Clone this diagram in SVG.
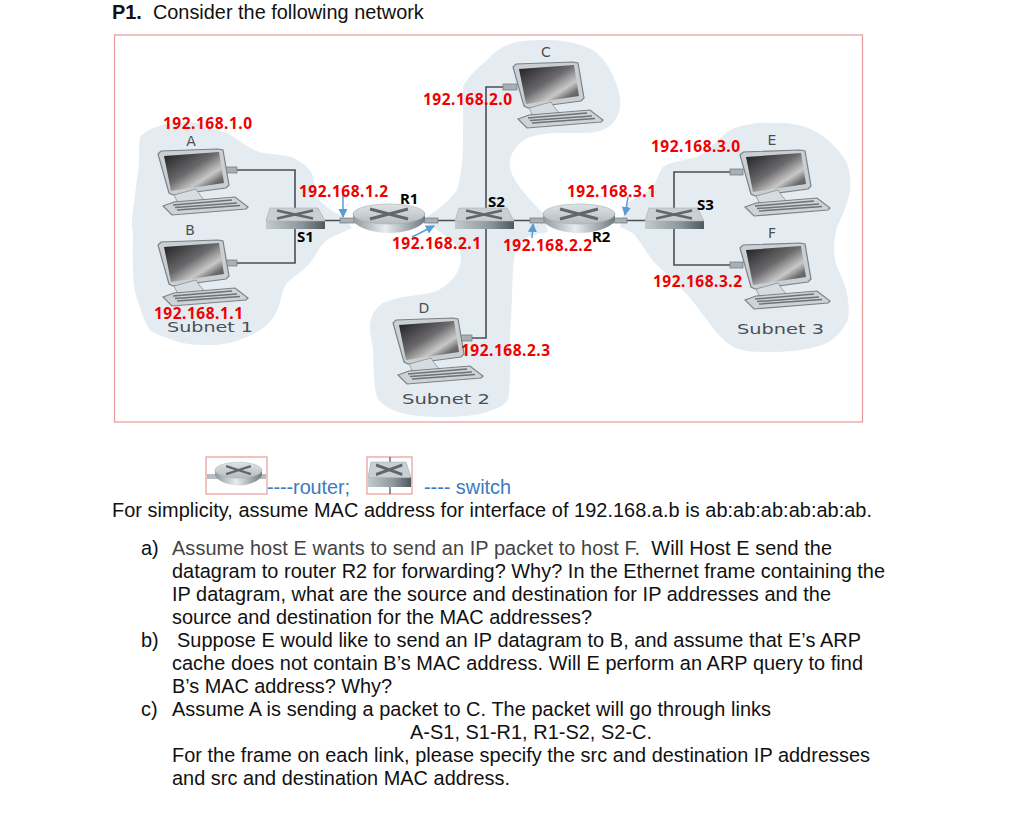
<svg xmlns="http://www.w3.org/2000/svg" width="1010" height="836" viewBox="0 0 1010 836">
<style>
.blob{fill:#e4ecf2}
.link{fill:none;stroke:#4a4f52;stroke-width:1.6}
.port{fill:#a9b0b4;stroke:#6d7478;stroke-width:.7}
.ip{font:bold 15.5px "Noto Sans","Liberation Sans",sans-serif;fill:#f00000}
.tag{font:bold 15px "Noto Sans","Liberation Sans",sans-serif;fill:#000}
.host{font:14px "DejaVu Sans","Liberation Sans",sans-serif;fill:#4a5054}
.body{font:19.9px "Liberation Sans",Arial,sans-serif;fill:#111;white-space:pre}
.grey{fill:#444}
.legend{font:19.9px "Liberation Sans",Arial,sans-serif;fill:#3a7cbd;white-space:pre}
.box{fill:#fff;stroke:#e79a9a;stroke-width:1.2}
.ar{fill:none;stroke:#5b9bd5;stroke-width:1.5;marker-end:url(#ah)}
</style>
<defs>
<marker id="ah" markerUnits="userSpaceOnUse" markerWidth="10" markerHeight="10" refX="8" refY="4.5" orient="auto"><path d="M0 0L9 4.5L0 9Z" fill="#5b9bd5"/></marker>
<linearGradient id="scr" x1="0" y1="0" x2="1" y2="1"><stop offset="0" stop-color="#1d1d1f"/><stop offset=".45" stop-color="#6a6a6c"/><stop offset=".68" stop-color="#c8c8c8"/><stop offset=".82" stop-color="#6c6c6e"/><stop offset="1" stop-color="#4a4a4c"/></linearGradient>
<linearGradient id="rb" x1="0" y1="0" x2="1" y2="0"><stop offset="0" stop-color="#8f989c"/><stop offset=".45" stop-color="#e8ecee"/><stop offset="1" stop-color="#6f797d"/></linearGradient>
<linearGradient id="rt" x1="0" y1="0" x2="0" y2="1"><stop offset="0" stop-color="#dfe3e5"/><stop offset="1" stop-color="#b4bcc0"/></linearGradient>
<linearGradient id="sf" x1="0" y1="0" x2="1" y2="0"><stop offset="0" stop-color="#c3cbce"/><stop offset=".6" stop-color="#8b979c"/><stop offset="1" stop-color="#4c585d"/></linearGradient>
<g id="pc">
<path d="M0 5L3 2L60 0L65 1L71 36L68 39L15 46L11 44Z" fill="#c9cfd2" stroke="#7b8286" stroke-width="1.200"/>
<path d="M6 7L61 3L66 34L13 42Z" fill="url(#scr)"/>
<path d="M16 46L19 52L12 56L48 53L42 46L38 40Z" fill="#d7dcdf" stroke="#899094" stroke-width=".8"/>
<path d="M5 57L16 53L77 48L90 58L88 60L14 66Z" fill="#cdd3d6" stroke="#7b8286" stroke-width="1.200"/>
<path d="M15 56L74 51M17 58.500L79 54M19 61L82 56.500" stroke="#6b7377" stroke-width="1.500" fill="none"/>
</g>
<g id="sw">
<path d="M4 0H52L59 13V21H0V13Z" fill="#c6ccd0"/>
<path d="M0 13H59V21H0Z" fill="url(#sf)"/>
<path d="M4 0H52L59 13H0Z" fill="#c9cfd2" stroke="#a7aeb2" stroke-width=".6"/>
<path d="M11 2.500L47 10.500M47 2.500L11 10.500" stroke="#5e676b" stroke-width="2.600" fill="none"/>
</g>
<g id="rt1">
<path d="M-36 -2V6C-30 14 -14 18 0 18C14 18 30 14 36 6V-2Z" fill="url(#rb)"/>
<ellipse cx="0" cy="-1" rx="36" ry="10" fill="url(#rt)" stroke="#a5adb1" stroke-width=".6"/>
<path d="M-19 -6L19 4M19 -6L-19 4" stroke="#5e676b" stroke-width="3" fill="none"/>
</g>
</defs>
<rect width="1010" height="836" fill="#fff"/>
<rect x="114.500" y="35" width="748" height="387" fill="#fff" stroke="#e79a9a" stroke-width="1.200"/>

<g id="subnets">
<path class="blob" d="M140 137C150 126 170 122 190 122C205 123 215 130 227 133C240 140 250 150 263 153C280 155 290 155 297 160C308 166 312 172 313 177C315 185 314 192 317 197C325 208 335 212 343 217L352 228C340 234 333 236 327 240C318 248 316 256 310 263C302 272 294 276 287 283C280 292 282 302 277 310C272 322 264 328 257 332C243 340 228 345 213 345C198 345 185 345 173 340C163 336 156 335 150 330C144 322 143 315 140 307C134 293 133 280 133 267C132 255 133 245 133 233C131 225 132 218 133 210C135 197 136 185 138 173C140 160 138 148 140 137Z"/>
<path class="blob" d="M547 40C565 40 585 44 597 53C610 65 617 82 620 97C621 107 619 116 613 123C605 132 592 133 580 133C562 133 545 132 530 137C520 141 512 150 510 160C509 168 512 176 517 183C525 195 535 205 543 213L548 232C535 234 526 236 520 243C515 251 514 258 513 267C512 290 512 312 510 333C510 360 511 382 508 400C503 406 498 408 493 410C478 416 460 417 443 417C425 417 407 416 393 410C385 406 380 403 377 397C373 382 374 365 373 350C372 340 369 332 370 323C372 313 377 307 383 303C398 296 415 296 430 293C442 290 451 282 457 273C461 265 462 258 460 250C453 240 440 232 427 223L427 217C440 208 450 200 457 190C463 170 463 150 463 130C464 115 462 100 463 87C468 76 478 68 487 60C496 50 505 45 513 43C524 40 535 40 547 40Z"/>
<path class="blob" d="M773 123C788 122 802 125 813 130C828 138 840 150 847 163C850 172 851 181 850 190C848 204 842 216 837 227C833 242 833 255 837 267C842 278 847 288 848 300C849 307 849 313 848 320C843 330 836 338 827 343C810 350 790 352 770 352C756 352 744 352 733 347C722 340 715 331 707 320C698 308 690 297 680 287C670 276 658 268 650 257C644 248 639 240 633 233L620 227L627 203C636 197 647 194 653 187C657 180 659 172 663 167C672 161 686 160 697 157C708 152 719 138 730 130C744 124 758 122 773 123Z"/>
</g>

<g id="connectors">
<path class="link" d="M237 170H295V208M237 263H295V229"/>
<path class="link" d="M325 220.500H354M424 220.500H455M513 220.500H544M614 220.500H645"/>
<path class="link" d="M503 87H486V208M486 229V338H472"/>
<path class="link" d="M730 172H674V208M674 229V265H730"/>
<rect class="port" x="340" y="218" width="15" height="5"/>
<rect class="port" x="424" y="218" width="14" height="5"/>
<rect class="port" x="530" y="218" width="15" height="5"/>
<rect class="port" x="613" y="218" width="14" height="5"/>
<rect class="port" x="225" y="167" width="12" height="6"/>
<rect class="port" x="225" y="260" width="12" height="6"/>
<rect class="port" x="503" y="84" width="14" height="6"/>
<rect class="port" x="458" y="335" width="14" height="6"/>
<rect class="port" x="730" y="169" width="13" height="6"/>
<rect class="port" x="730" y="262" width="13" height="6"/>
</g>

<g id="host-A"><use href="#pc" x="158" y="149"/><text class="host" x="191" y="146" text-anchor="middle">A</text></g>
<g id="host-B"><use href="#pc" x="158" y="240"/><text class="host" x="190" y="235" text-anchor="middle">B</text></g>
<g id="host-C"><use href="#pc" x="513" y="62"/><text class="host" x="546" y="57" text-anchor="middle">C</text></g>
<g id="host-D"><use href="#pc" x="393" y="318"/><text class="host" x="424" y="313" text-anchor="middle">D</text></g>
<g id="host-E"><use href="#pc" x="740" y="150"/><text class="host" x="772" y="145" text-anchor="middle">E</text></g>
<g id="host-F"><use href="#pc" x="740" y="243"/><text class="host" x="772" y="238" text-anchor="middle">F</text></g>

<g id="switch-S1"><use href="#sw" x="266" y="208"/><text class="tag" x="297" y="242">S1</text></g>
<g id="switch-S2"><use href="#sw" x="455" y="208"/><text class="tag" x="488" y="207">S2</text></g>
<g id="switch-S3"><use href="#sw" x="645" y="208"/><text class="tag" x="697" y="210">S3</text></g>
<g id="router-R1"><use href="#rt1" x="389" y="215"/><text class="tag" x="400" y="204">R1</text></g>
<g id="router-R2"><use href="#rt1" x="579" y="215"/><text class="tag" x="592" y="242">R2</text></g>

<g id="subnet-labels">
<text class="host" x="167" y="332" textLength="86" lengthAdjust="spacingAndGlyphs">Subnet 1</text>
<text class="host" x="402" y="404" textLength="88" lengthAdjust="spacingAndGlyphs">Subnet 2</text>
<text class="host" x="737" y="334" textLength="87" lengthAdjust="spacingAndGlyphs">Subnet 3</text>
</g>

<g id="interface-arrows">
<path class="ar" d="M343 195V217"/>
<path class="ar" d="M628 197L625 215"/>
<path class="ar" d="M412 237L434 226"/>
<path class="ar" d="M532 238L533 224"/>
</g>

<g id="ip-labels">
<text class="ip" x="163" y="129" textLength="89">192.168.1.0</text>
<text class="ip" x="423" y="105" textLength="89">192.168.2.0</text>
<text class="ip" x="651" y="152" textLength="89">192.168.3.0</text>
<text class="ip" x="299" y="197" textLength="89">192.168.1.2</text>
<text class="ip" x="567" y="197" textLength="89">192.168.3.1</text>
<text class="ip" x="392" y="249" textLength="89">192.168.2.1</text>
<text class="ip" x="503" y="251" textLength="89">192.168.2.2</text>
<text class="ip" x="653" y="287" textLength="89">192.168.3.2</text>
<text class="ip" x="154" y="319" textLength="89">192.168.1.1</text>
<text class="ip" x="461" y="356" textLength="89">192.168.2.3</text>
</g>

<g id="legend-router">
<rect class="box" x="206" y="457" width="61" height="37"/>
<rect x="207" y="474" width="59" height="5" fill="#b6bdc1"/>
<use href="#rt1" transform="translate(238.500 471) scale(.65 .8)"/>
</g>
<g id="legend-switch">
<rect class="box" x="367" y="457" width="45" height="37"/>
<path d="M390 457V462M390 487V494" stroke="#4a4f52" stroke-width="1.200"/>
<use href="#sw" transform="translate(368 462) scale(.73 1.190)"/>
</g>
<text class="legend" x="267" y="494" textLength="83">----router;</text>
<text class="legend" x="424" y="494" textLength="87">---- switch</text>

<g id="question">
<text class="body" x="112" y="19"><tspan font-weight="bold">P1.</tspan>  Consider the following network</text>
<text class="body" x="112" y="517" textLength="760">For simplicity, assume MAC address for interface of 192.168.a.b is ab:ab:ab:ab:ab:ab.</text>
<text class="body" x="141" y="555">a)</text>
<text class="body" x="172" y="555" textLength="660"><tspan class="grey">Assume host E wants to send an IP packet to host F.</tspan>  Will Host E send the</text>
<text class="body" x="172" y="578" textLength="713">datagram to router R2 for forwarding? Why? In the Ethernet frame containing the</text>
<text class="body" x="172" y="601" textLength="659">IP datagram, what are the source and destination for IP addresses and the</text>
<text class="body" x="172" y="624" textLength="420">source and destination for the MAC addresses?</text>
<text class="body" x="141" y="647">b)</text>
<text class="body" x="177" y="647" textLength="684">Suppose E would like to send an IP datagram to B, and assume that E’s ARP</text>
<text class="body" x="172" y="670" textLength="691">cache does not contain B’s MAC address. Will E perform an ARP query to find</text>
<text class="body" x="172" y="693" textLength="220">B’s MAC address? Why?</text>
<text class="body" x="141" y="716">c)</text>
<text class="body" x="172" y="716" textLength="599">Assume A is sending a packet to C. The packet will go through links</text>
<text class="body" x="410" y="739" textLength="242">A-S1, S1-R1, R1-S2, S2-C.</text>
<text class="body" x="172" y="762" textLength="698">For the frame on each link, please specify the src and destination IP addresses</text>
<text class="body" x="172" y="785" textLength="338">and src and destination MAC address.</text>
</g>
</svg>
